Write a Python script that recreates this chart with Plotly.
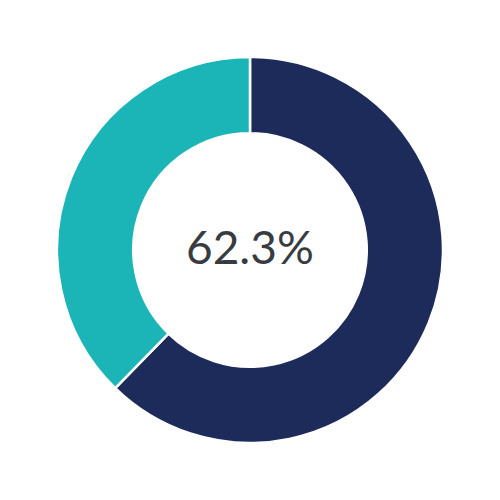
import plotly.graph_objects as go

labels = ["A", "B"]
values = [62.3, 37.7]
colors = ["#1d2b5a", "#1bb5b8"]
center_text = "62.3%"

fig = go.Figure()
fig.add_trace(go.Pie(
    labels=labels,
    values=values,
    hole=0.605,
    sort=False,
    direction="clockwise",
    rotation=0,
    marker=dict(colors=colors, line=dict(color="white", width=2.5)),
    textinfo="none",
    hoverinfo="none",
    showlegend=False,
))

fig.add_annotation(
    text=center_text, x=0.5, y=0.5, xref="paper", yref="paper",
    showarrow=False, yshift=4,
    font=dict(family="Lato", size=46, color="#373c41"),
)

fig.update_layout(
    width=500, height=500,
    margin=dict(l=49, r=65, t=49, b=65),
    paper_bgcolor="white", plot_bgcolor="white",
)

fig.write_html("out.html")
